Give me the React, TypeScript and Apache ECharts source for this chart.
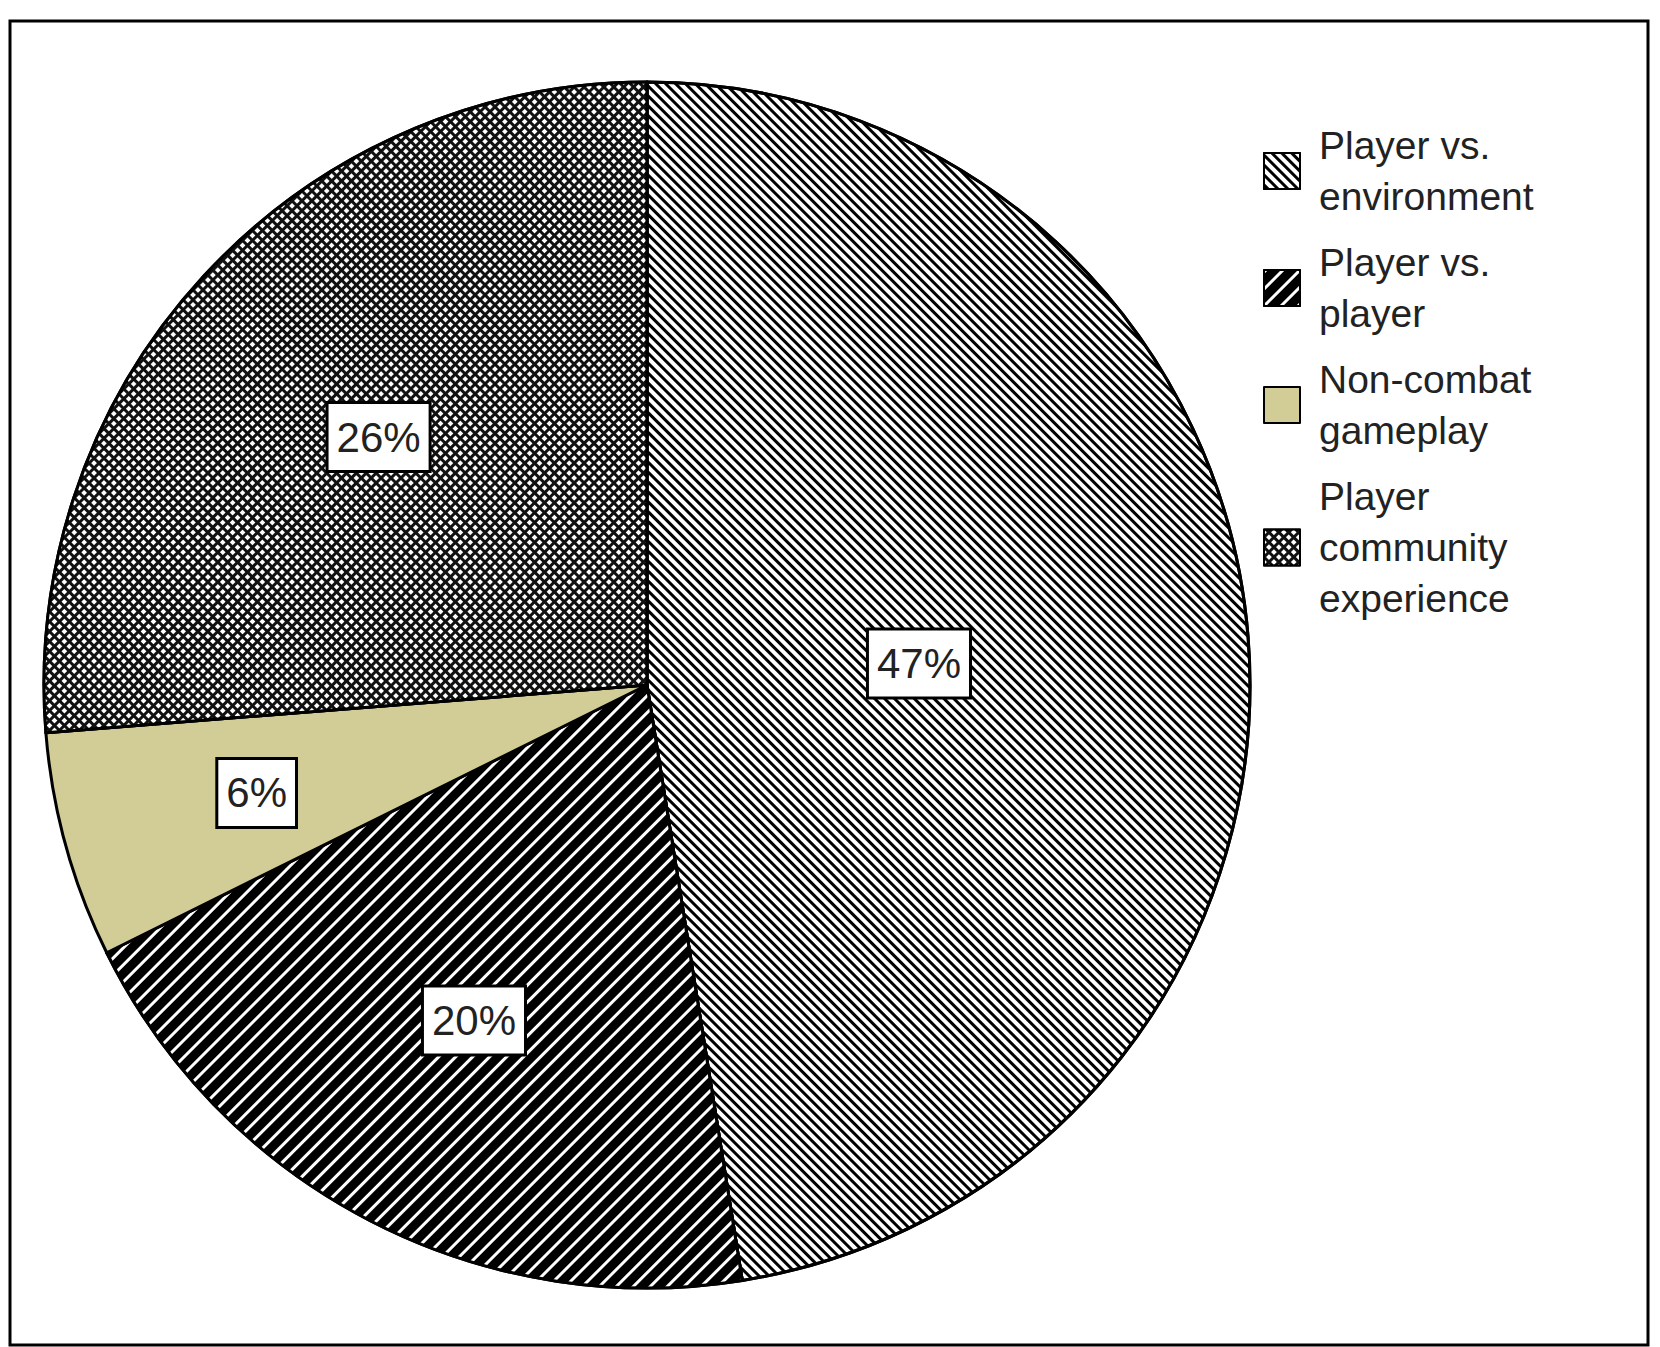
import React, { useRef, useEffect } from 'react';
import * as echarts from 'echarts';

// slice names (legend text) and shares in percent, clockwise from 12 o'clock
const categories = [
  'Player vs.\nenvironment',
  'Player vs.\nplayer',
  'Non-combat\ngameplay',
  'Player\ncommunity\nexperience',
];
const shares = [47, 20, 6, 26];

// where each percent label sits, as a fraction of the radius
const labelRadius = [0.448, 0.62, 0.665, 0.6];

const FONT = '"Liberation Sans", Arial, sans-serif';
const CX = 647;
const CY = 685;
const R = 603;

// fill + hatch for every slice
const sliceStyles = [
  {
    color: '#ffffff',
    decal: { symbol: 'rect', symbolSize: 1, color: '#000', dashArrayX: [1, 0], dashArrayY: [3, 4], rotation: Math.PI / 4 },
  },
  {
    color: '#000000',
    decal: { symbol: 'rect', symbolSize: 1, color: '#fff', dashArrayX: [1, 0], dashArrayY: [3, 9], rotation: -Math.PI / 4 },
  },
  { color: '#d2cd96' },
  {
    color: '#111111',
    decal: { symbol: 'rect', symbolSize: 1, color: '#fff', dashArrayX: [4, 3], dashArrayY: [4, 3], rotation: Math.PI / 4 },
  },
];

const App: React.FC = () => {
  const chartRef = useRef<HTMLDivElement>(null);

  useEffect(() => {
    if (!chartRef.current) return;
    const chart = echarts.init(chartRef.current, null, { renderer: 'svg' });

    chart.setOption({
      animation: false,
      backgroundColor: '#ffffff',
      graphic: [
        {
          type: 'rect',
          shape: { x: 10, y: 21, width: 1638, height: 1324 },
          style: { fill: 'none', stroke: '#000', lineWidth: 3 },
          silent: true,
        },
      ],
      legend: {
        orient: 'vertical',
        left: 1263,
        top: 120,
        padding: 0,
        itemWidth: 36,
        itemHeight: 36,
        itemGap: 15,
        icon: 'rect',
        data: categories,
        textStyle: {
          fontFamily: FONT,
          fontSize: 39,
          lineHeight: 51,
          color: '#222',
          padding: [0, 0, 0, 14],
        },
      },
      series: [
        {
          type: 'pie',
          center: [CX, CY],
          radius: R,
          startAngle: 90,
          clockwise: true,
          avoidLabelOverlap: false,
          itemStyle: { borderColor: '#000', borderWidth: 3 },
          label: {
            show: true,
            position: 'inside',
            formatter: '{c}%',
            fontFamily: FONT,
            fontSize: 42,
            lineHeight: 50,
            color: '#222',
            backgroundColor: '#fff',
            borderColor: '#000',
            borderWidth: 3,
            padding: [8, 8],
          },
          labelLine: { show: false },
          labelLayout: (params: any) => {
            const i = params.dataIndex;
            const r = params.labelRect;
            const lx = r.x + r.width / 2;
            const ly = r.y + r.height / 2;
            const k = labelRadius[i] / 0.5;
            return { x: CX + (lx - CX) * k, y: CY + (ly - CY) * k };
          },
          emphasis: { disabled: true },
          data: categories.map((name, i) => ({
            name,
            value: shares[i],
            itemStyle: sliceStyles[i],
          })),
        },
      ],
    });

    return () => {
      chart.dispose();
    };
  }, []);

  return (
    <div
      ref={chartRef}
      style={{ position: 'absolute', left: 0, top: 0, width: 1660, height: 1347, background: '#fff' }}
    />
  );
};

export default App;
